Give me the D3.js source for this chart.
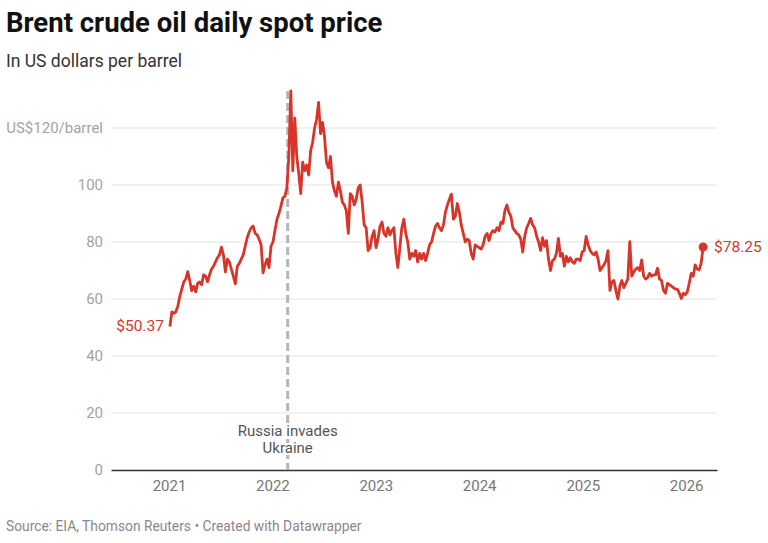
<!DOCTYPE html>
<html>
<head>
<meta charset="utf-8">
<script src="https://cdn.jsdelivr.net/npm/d3@7"></script>
<style>
  body { margin: 0; background: #fff; font-family: Roboto, "Noto Sans", sans-serif; }
</style>
</head>
<body>
<svg id="chart" width="768" height="543"></svg>
<script>
// weekly readings of the Brent spot price, first week starts 2021-01-04
const firstWeek = "2021-01-04";
const prices2021 = [50.37, 55.5, 55.0, 55.5, 57.5, 61.0, 63.5, 66.0, 67.0, 69.6, 66.5, 62.9, 64.5,
  62.5, 65.5, 66.0, 65.0, 68.5, 68.0, 66.0, 68.5, 70.5, 71.5, 73.0, 74.5, 75.5,
  78.2, 75.5, 69.5, 74.0, 73.0, 70.5, 68.0, 65.3, 71.5, 72.5, 74.0, 75.5, 78.5,
  81.5, 83.5, 85.0, 85.6, 83.0, 82.5, 81.0, 79.0, 69.2, 72.0, 74.0, 71.0, 78.5];
const prices2022 = [80.0, 84.0, 88.0, 90.0, 92.5, 95.5, 96.0, 99.0, 110.0, 133.0, 105.0, 123.5, 110.0,
  104.0, 97.0, 108.0, 105.0, 107.0, 103.5, 112.0, 115.0, 120.0, 123.0, 129.0, 118.0, 122.0,
  117.0, 108.0, 106.0, 110.0, 101.0, 98.0, 96.0, 101.0, 98.0, 94.0, 93.0, 91.0, 83.0,
  97.0, 96.0, 93.0, 95.0, 99.0, 100.0, 94.0, 86.0, 85.0, 77.0, 78.0, 82.0, 84.0];
const prices2023 = [78.0, 81.0, 85.5, 87.0, 83.0, 82.0, 85.0, 82.5, 84.0, 85.0, 76.0, 71.0, 78.0,
  85.0, 88.0, 83.0, 80.0, 74.0, 76.0, 75.0, 77.0, 73.0, 76.0, 74.0, 76.0, 73.5,
  76.0, 79.0, 80.0, 83.0, 85.5, 86.5, 85.0, 84.0, 86.0, 90.5, 93.0, 95.0, 96.8,
  88.0, 89.0, 93.5, 90.5, 86.0, 83.0, 80.0, 81.0, 80.5, 76.0, 74.0, 79.0, 78.5];
const prices2024 = [78.0, 77.5, 79.0, 82.0, 83.0, 80.5, 83.0, 84.0, 83.5, 85.0, 84.0, 87.0, 86.5,
  91.0, 93.0, 90.5, 89.0, 85.0, 84.0, 83.0, 82.5, 81.0, 76.5, 82.0, 85.0, 86.5,
  88.3, 86.0, 85.0, 82.0, 80.0, 77.0, 81.5, 78.5, 80.5, 74.0, 70.0, 73.5, 74.0,
  76.0, 81.3, 75.0, 76.0, 71.5, 75.0, 73.0, 74.5, 73.0, 72.5, 74.0, 74.0, 73.5];
const prices2025 = [76.5, 77.0, 82.0, 79.0, 77.0, 76.0, 75.5, 76.5, 74.0, 70.0, 71.0, 72.0, 73.5,
  77.0, 63.0, 66.0, 66.5, 63.0, 60.0, 64.5, 66.5, 64.0, 65.5, 67.0, 80.1, 68.0,
  69.5, 70.5, 71.0, 70.0, 73.7, 68.0, 67.0, 67.5, 69.0, 68.0, 68.5, 68.5, 70.8,
  67.0, 66.5, 63.0, 62.0, 65.5, 65.0, 64.5, 64.0, 63.5, 63.5, 62.0, 60.2, 62.0];
const prices2026 = [61.5, 62.5, 65.5, 69.0, 68.0, 72.0, 70.5, 70.2, 72.5, 78.25];

const yearTicks = [2021, 2022, 2023, 2024, 2025, 2026];
const yTicks = [0, 20, 40, 60, 80, 100, 120];
const invasionDate = "2022-02-24";

const parse = d3.timeParse("%Y-%m-%d");
const allPrices = [].concat(prices2021, prices2022, prices2023, prices2024, prices2025, prices2026);
const start = parse(firstWeek);
const data = allPrices.map((v, i) => ({ date: d3.timeDay.offset(start, 7 * i), value: v }));

const svg = d3.select('#chart');
const red = '#d8352a';

const x = d3.scaleTime()
    .domain([parse("2020-06-10"), parse("2026-04-20")])
    .range([111, 717]);
const y = d3.scaleLinear().domain([0, 120]).range([470, 128]);

// title block
svg.append('text').attr('x', 6).attr('y', 32)
    .attr('font-size', 27.5).attr('font-weight', 700).attr('fill', '#111')
    .text('Brent crude oil daily spot price');
svg.append('text').attr('x', 6).attr('y', 67)
    .attr('font-size', 17.5).attr('fill', '#333')
    .text('In US dollars per barrel');

// grid + y labels
const grid = svg.append('g');
grid.selectAll('line').data(yTicks.filter(d => d > 0)).join('line')
    .attr('x1', 111).attr('x2', 717)
    .attr('y1', d => y(d)).attr('y2', d => y(d))
    .attr('stroke', '#e3e3e3').attr('stroke-width', 1);
grid.selectAll('text').data(yTicks).join('text')
    .attr('x', 103).attr('y', d => y(d) + 5)
    .attr('text-anchor', 'end')
    .attr('font-size', 15).attr('fill', '#a3a3a3')
    .text(d => d === 120 ? 'US$120/barrel' : d);

// x axis
const xAxis = svg.append('g')
    .attr('transform', 'translate(0,470)')
    .call(d3.axisBottom(x).tickValues(yearTicks.map(yr => new Date(yr, 0, 1)))
        .tickFormat(d3.timeFormat('%Y')).tickSize(0).tickPadding(10));
xAxis.select('.domain').attr('stroke', '#333').attr('stroke-width', 1.5);
xAxis.selectAll('text').attr('font-size', 15).attr('fill', '#777')
    .attr('font-family', 'Roboto, sans-serif');

// invasion marker
const inv = x(parse(invasionDate));
svg.append('line')
    .attr('x1', inv).attr('x2', inv).attr('y1', 91).attr('y2', 470)
    .attr('stroke', '#b5b5b5').attr('stroke-width', 3)
    .attr('stroke-dasharray', '8,4');
svg.append('g').selectAll('text').data(['Russia invades', 'Ukraine']).join('text')
    .attr('x', inv).attr('y', (d, i) => 436 + i * 17)
    .attr('text-anchor', 'middle')
    .attr('font-size', 15).attr('fill', '#555')
    .attr('stroke', '#fff').attr('stroke-width', 4).attr('paint-order', 'stroke')
    .text(d => d);

// price line
const line = d3.line()
    .x(d => x(d.date))
    .y(d => y(d.value));
svg.append('path')
    .datum(data)
    .attr('fill', 'none')
    .attr('stroke', red)
    .attr('stroke-width', 2.8)
    .attr('stroke-linejoin', 'round')
    .attr('d', line);

const first = data[0], last = data[data.length - 1];
svg.append('circle')
    .attr('cx', x(last.date)).attr('cy', y(last.value)).attr('r', 4.5)
    .attr('fill', red);
svg.append('text')
    .attr('x', x(last.date) + 11).attr('y', y(last.value) + 5)
    .attr('font-size', 15.5).attr('fill', red)
    .text('$' + last.value.toFixed(2));
svg.append('text')
    .attr('x', x(first.date) - 6).attr('y', y(first.value) + 5)
    .attr('text-anchor', 'end')
    .attr('font-size', 15.5).attr('fill', red)
    .text('$' + first.value.toFixed(2));

// footer
svg.append('text').attr('x', 6).attr('y', 531)
    .attr('font-size', 13.8).attr('fill', '#888')
    .text('Source: EIA, Thomson Reuters • Created with Datawrapper');
</script>
</body>
</html>
